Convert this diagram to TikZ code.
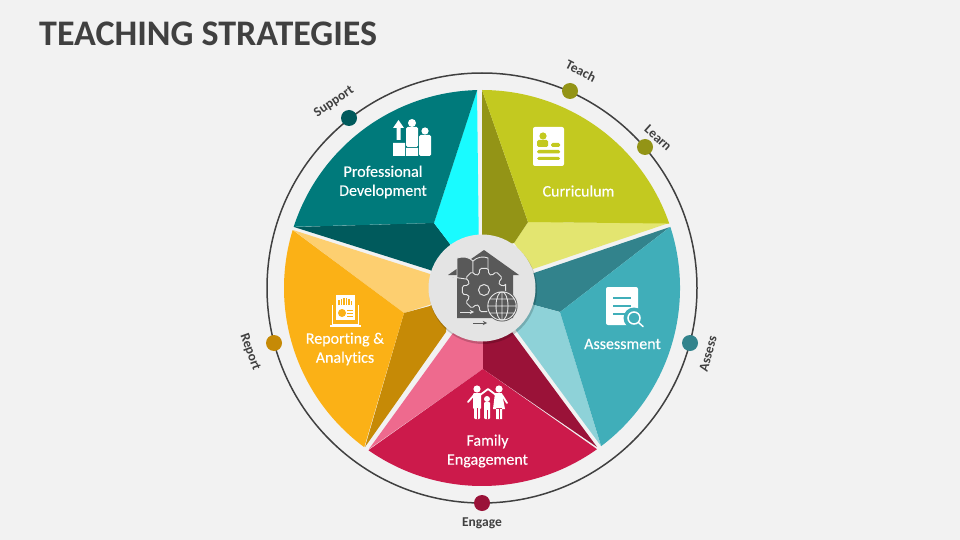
\documentclass[tikz,border=0pt]{standalone}
\usepackage{fontspec}
\setmainfont{Carlito}[Ligatures=NoCommon]
\usetikzlibrary{calc}
\definecolor{pagebg}{HTML}{F2F2F2}
\definecolor{inkgrey}{HTML}{404040}
\definecolor{hubgrey}{HTML}{E4E4E4}
\definecolor{icongrey}{HTML}{595959}
\definecolor{oliveA}{HTML}{C3C920}
\definecolor{oliveB}{HTML}{939416}
\definecolor{oliveC}{HTML}{E3E570}
\definecolor{aquaA}{HTML}{40AEB9}
\definecolor{aquaB}{HTML}{32838C}
\definecolor{aquaC}{HTML}{8ED2D8}
\definecolor{roseA}{HTML}{CC1A4B}
\definecolor{roseB}{HTML}{9A1238}
\definecolor{roseC}{HTML}{EE6A8E}
\definecolor{amberA}{HTML}{FBB116}
\definecolor{amberB}{HTML}{C68A06}
\definecolor{amberC}{HTML}{FDCF70}
\definecolor{tealA}{HTML}{007A7B}
\definecolor{tealB}{HTML}{005A5C}
\definecolor{tealC}{HTML}{19FBFF}
\tikzset{
  segtext/.style={text=white,font=\fontsize{16}{19}\selectfont\addfontfeatures{FakeBold=0.25},align=center,inner sep=0pt},
  marker/.style={circle,inner sep=0pt,minimum size=16pt},
  tag/.style={text=inkgrey,font=\fontsize{13.5}{15}\selectfont\bfseries,inner sep=0pt},
  hubmark/.style={fill=icongrey,draw=hubgrey,line width=.9pt,line join=round}
}
\begin{document}
\begin{tikzpicture}[x=1pt,y=-1pt]
\fill[pagebg] (0,0) rectangle (960,540);
\useasboundingbox (0,0) rectangle (960,540);
\coordinate (hub) at (482,288);
\node[anchor=west,inner sep=0pt,text=inkgrey,font=\fontsize{36}{40}\selectfont\bfseries] at (39,34) (title) {TEACHING STRATEGIES};
\draw[inkgrey,line width=1.5pt] (hub) circle (215);
\fill[oliveC] (528,222) -- (669,223) -- (533,269) -- (514,243) -- cycle;
\fill[oliveB] (482,90) -- (528,222) -- (514,243) -- (482,250) -- cycle;
\fill[oliveA] (hub) ++(-90:198) arc[start angle=-90,end angle=-19,radius=198] -- (528,222) -- cycle;
\fill[aquaB] (670,227) -- (560,312) -- (534,305) -- (510,288) -- (534,273) -- cycle;
\fill[aquaC] (560,312) -- (601,446) -- (512,325) -- (510,290) -- (534,305) -- cycle;
\fill[aquaA] (hub) ++(-18:198) arc[start angle=-18,end angle=53,radius=198] -- (560,312) -- cycle;
\fill[roseC] (369,449) -- (483,369) -- (483,320) -- (453,333) -- cycle;
\fill[roseB] (597,447) -- (483,369) -- (483,320) -- (512,332) -- cycle;
\fill[roseA] (hub) ++(54.5:198) arc[start angle=54.5,end angle=125,radius=198] -- (483,369) -- cycle;
\fill[amberC] (293,230) -- (404,313) -- (432,304) -- (450,288) -- (430,274) -- cycle;
\fill[amberB] (404,313) -- (365,447) -- (446,332) -- (450,290) -- (430,306) -- cycle;
\fill[amberA] (hub) ++(126.5:198) arc[start angle=126.5,end angle=197,radius=198] -- (404,313) -- cycle;
\fill[tealB] (294,227) -- (434,223) -- (450,244) -- (460,288) -- (430,270) -- cycle;
\fill[tealC] (477,90) -- (434,223) -- (450,244) -- (479,260) -- cycle;
\fill[tealA] (hub) ++(198:198) arc[start angle=198,end angle=268.6,radius=198] -- (434,223) -- cycle;
\fill[black,opacity=.18] (483,290) circle (54);
\node[circle,fill=hubgrey,inner sep=0pt,minimum size=107pt] at (hub) (hubdisc) {};
\node[segtext] at (383,182) (profdev) {Professional\\Development};
\node[segtext] at (578.5,191) (curriculum) {Curriculum};
\node[segtext] at (622.5,344) (assessment) {Assessment};
\node[segtext] at (487.5,451) (family) {Family\\Engagement};
\node[segtext] at (345,349) (reporting) {Reporting \&\\Analytics};
\node[marker,fill=oliveB] at (570,91) (teachdot) {};
\node[marker,fill=oliveB] at (645,147) (learndot) {};
\node[marker,fill=aquaB] at (690,343) (assessdot) {};
\node[marker,fill=roseB] at (482,503) (engagedot) {};
\node[marker,fill=amberB] at (274,343) (reportdot) {};
\node[marker,fill=tealB] at (349,118) (supportdot) {};
\node[tag,rotate=-27] at (581,71) (teach) {Teach};
\node[tag,rotate=-42] at (658,138) (learn) {Learn};
\node[tag,rotate=75] at (708,354) (assess) {Assess};
\node[tag] at (482,523) (engage) {Engage};
\node[tag,rotate=-70] at (250,352) (report) {Report};
\node[tag,rotate=34] at (334,102) (support) {Support};
\fill[white] (393,143) rectangle (405,156) (406,148) rectangle (418,156);
\fill[white] (412,123) circle (4) (425,131) circle (3.6);
\fill[white,rounded corners=1.5pt] (406,127) rectangle (418,147) (419,135) rectangle (431,156);
\fill[white] (396.5,140) -- (396.5,128) -- (393,128) -- (398.5,120) -- (404,128) -- (400.5,128) -- (400.5,140) -- cycle;
\fill[white,rounded corners=2pt] (533,127) rectangle (564,166);
\fill[oliveA] (543,136) circle (3.6);
\fill[oliveA,rounded corners=1.5pt] (537,140) rectangle (548,147) (551,143) rectangle (560,147) (537,150) rectangle (560,153.5) (537,157) rectangle (560,160);
\fill[white,rounded corners=2pt] (606,287) rectangle (638,325);
\draw[aquaA,line width=1.6pt] (613,298) -- (631,298) (613,306) -- (631,306) (613,314) -- (625,314);
\fill[aquaA] (634,318) circle (10.5);
\draw[white,line width=1.5pt,line cap=round] (634,318) circle (6) (638.5,322.5) -- (643,326.5);
\fill[white] (477,389) circle (3.6) (499,389) circle (3.6) (487,399) circle (3);
\fill[white,rounded corners=1pt] (473,393) rectangle (481,409) (474,408) rectangle (480,419) (484,402) rectangle (490,419);
\fill[white] (495,393) -- (502,393) -- (505,409) -- (493,409) -- cycle (496,408) rectangle (502,419);
\draw[roseA,line width=.7pt] (477,408) -- (477,419) (487,410) -- (487,419) (499,409) -- (499,419);
\draw[white,line width=1.8pt,line cap=round,line join=round] (474,395) -- (468,402) (480,395) -- (488,389) -- (496,395) (502,395) -- (507,403);
\fill[white] (336,295) rectangle (355,320);
\draw[white,line width=.9pt] (332.5,305) -- (332.5,324) -- (358.5,324) -- (358.5,305);
\draw[white,line width=1.2pt] (330,326) -- (361,326);
\draw[amberA,line width=1.3pt] \foreach \x/\ytop in {339/300,341.5/298.5,344/297.5,346.5/298,349/299,351.5/300.5}{ (\x,305) -- (\x,\ytop) };
\fill[amberA] (342,313) circle (4);
\draw[amberA,line width=.8pt] (347,310) -- (353,310) (347,313) -- (353,313) (347,316) -- (353,316);
\fill[icongrey] (484,250) -- (519,275) -- (513,275) -- (513,318) -- (457,318) -- (457,275) -- (448,275) -- cycle;
\draw[hubmark] (452,277) -- (457,277) -- (457,258) .. controls (463,256) and (469,257) .. (473,261) -- (473,280) -- cycle;
\draw[hubmark] (473,261) .. controls (477,257) and (483,256) .. (488,258) -- (488,282) -- (473,282) -- cycle;
\coordinate (gearhub) at (484,290);
\draw[hubmark,rounded corners=1.5pt] ($(gearhub)+(-11:22)$) \foreach \a in {0,45,...,315}{ -- ($(gearhub)+(\a-11:22)$) -- ($(gearhub)+(\a+11:22)$) -- ($(gearhub)+(\a+17:16.5)$) -- ($(gearhub)+(\a+28:16.5)$) } -- cycle;
\draw[hubgrey,line width=1pt] (gearhub) circle (5.5);
\coordinate (globehub) at (502,306);
\fill[icongrey] (globehub) circle (15.5);
\draw[hubgrey,line width=.9pt] (globehub) circle (14.2) (globehub) ellipse (6 and 14.2) (488,306) -- (516,306) (490,299) -- (514,299) (490,313) -- (514,313) (502,292) -- (502,320);
\draw[hubgrey,line width=.9pt,-stealth] (460,312) -- (474,312);
\draw[icongrey,line width=.9pt,-stealth] (473,323) -- (487,323);
\end{tikzpicture}
\end{document}
